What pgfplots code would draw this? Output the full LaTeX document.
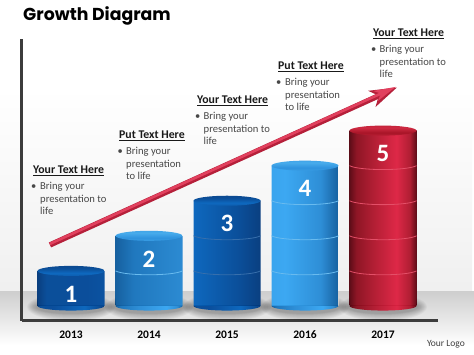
\documentclass[border=0pt]{standalone}
\usepackage{fontspec}
\setmainfont{Carlito}
\newfontfamily\titlefont{Poppins}
\usepackage{pgfplots}
\pgfplotsset{compat=1.18}
\usetikzlibrary{arrows.meta}
\definecolor{spine}{HTML}{3C3C3C}
\definecolor{HTMLa}{HTML}{0A3F80}
\definecolor{HTMLb}{HTML}{0B4F9A}
\definecolor{HTMLc}{HTML}{0B4E9B}
\definecolor{HTMLd}{HTML}{0E68BE}
\definecolor{LBa}{HTML}{16609F}
\definecolor{LBb}{HTML}{2078BE}
\definecolor{LBc}{HTML}{2E8ED6}
\definecolor{LBd}{HTML}{3CA8F2}
\definecolor{REa}{HTML}{5E0D18}
\definecolor{REb}{HTML}{8E1625}
\definecolor{REc}{HTML}{B01E33}
\definecolor{REd}{HTML}{DE2847}
\definecolor{LTa}{HTML}{2F93DE}
\definecolor{LTb}{HTML}{48ACEC}
\definecolor{RTa}{HTML}{A81528}
\definecolor{RTb}{HTML}{CF2A42}
\definecolor{ARa}{HTML}{B5203A}
\definecolor{ARb}{HTML}{E2405E}
\pgfdeclarehorizontalshading{cylDark}{100bp}{color(0bp)=(HTMLa);color(25bp)=(HTMLa);color(27bp)=(HTMLb);color(36bp)=(HTMLc);color(60bp)=(HTMLd);color(70bp)=(HTMLb);color(75bp)=(HTMLa);color(100bp)=(HTMLa)}
\pgfdeclarehorizontalshading{cylLight}{100bp}{color(0bp)=(LBa);color(25bp)=(LBa);color(29bp)=(LBb);color(42bp)=(LBc);color(63bp)=(LBd);color(71bp)=(LBc);color(75bp)=(LBa);color(100bp)=(LBa)}
\pgfdeclarehorizontalshading{cylRed}{100bp}{color(0bp)=(REa);color(25bp)=(REa);color(30bp)=(REb);color(42bp)=(REc);color(60bp)=(REd);color(70bp)=(REc);color(75bp)=(REa);color(100bp)=(REa)}
\pgfdeclareverticalshading{topDark}{100bp}{color(0bp)=(HTMLb);color(40bp)=(HTMLd);color(62bp)=(HTMLb);color(100bp)=(HTMLa)}
\pgfdeclareverticalshading{topLight}{100bp}{color(0bp)=(LTb);color(40bp)=(LTa);color(65bp)=(LTb);color(100bp)=(LTa)}
\pgfdeclareverticalshading{topRed}{100bp}{color(0bp)=(RTb);color(40bp)=(RTa);color(65bp)=(RTb);color(100bp)=(RTa)}
\newcommand\cylE[1]{\pgfpathellipse{\pgfpointorigin}{\pgfqpoint{33.5pt}{0pt}}{\pgfqpoint{0pt}{#1}}}
\newcommand\cylB{%
  \pgfpathmoveto{\pgfqpoint{-33.5pt}{0pt}}%
  \pgfpathcurveto{\pgfqpoint{-33.5pt}{-2.5pt}}{\pgfqpoint{-18.5pt}{-4.6pt}}{\pgfqpoint{0pt}{-4.6pt}}%
  \pgfpathcurveto{\pgfqpoint{18.5pt}{-4.6pt}}{\pgfqpoint{33.5pt}{-2.5pt}}{\pgfqpoint{33.5pt}{0pt}}%
  \pgfpathclose}
\pgfdeclareplotmark{capDark}{\cylE{5pt}\pgfshadepath{topDark}{0}\pgfusepath{discard}}
\pgfdeclareplotmark{capLight}{\cylE{5pt}\pgfshadepath{topLight}{0}\pgfusepath{discard}}
\pgfdeclareplotmark{capRed}{\cylE{5pt}\pgfshadepath{topRed}{0}\pgfusepath{discard}}
\pgfdeclareplotmark{baseDark}{\cylB\pgfshadepath{cylDark}{0}\pgfusepath{discard}}
\pgfdeclareplotmark{baseLight}{\cylB\pgfshadepath{cylLight}{0}\pgfusepath{discard}}
\pgfdeclareplotmark{baseRed}{\cylB\pgfshadepath{cylRed}{0}\pgfusepath{discard}}
\pgfdeclareplotmark{seam}{%
  \pgfpathmoveto{\pgfqpoint{-33.5pt}{0pt}}%
  \pgfpathcurveto{\pgfqpoint{-24pt}{-5.2pt}}{\pgfqpoint{24pt}{-5.2pt}}{\pgfqpoint{33.5pt}{0pt}}%
  \pgfusepathqstroke}
\newcommand\shadowE[2]{\pgfpathellipse{\pgfqpoint{0pt}{-1pt}}{\pgfqpoint{#1pt}{0pt}}{\pgfqpoint{0pt}{#2pt}}\pgfusepathqfill}
% the shadow is clipped to everything but the cylinder body, since marks lie above the bars
\pgfdeclareplotmark{shadow}{%
  \pgfscope
  \pgfseteorule
  \pgfpathrectanglecorners{\pgfqpoint{-60pt}{-30pt}}{\pgfqpoint{60pt}{30pt}}%
  \pgfpathrectanglecorners{\pgfqpoint{-33.5pt}{0pt}}{\pgfqpoint{33.5pt}{30pt}}%
  \pgfusepath{clip}%
  \pgfsetfillopacity{0.035}%
  \shadowE{44}{14}\shadowE{43}{13}\shadowE{42}{12}\shadowE{41}{11}\shadowE{40}{10}\shadowE{39}{9}\shadowE{38}{8}\shadowE{36.5}{7.5}\shadowE{35}{7}%
  \endpgfscope}
\newcommand\blurb[7]{% x, head centre y, head, bullet x, text x, line2, line3
  \node[anchor=mid west,inner sep=0pt,text=black!90] at (#1pt,353.5pt-#2pt) {\bfseries\fontsize{11.8}{12}\selectfont\underline{#3}};
  \node[anchor=mid west,inner sep=0pt,text=black!72] at (#4pt,353.5pt-#2pt-16pt) {\fontsize{10.5}{12}\selectfont\textbullet};
  \node[anchor=mid west,inner sep=0pt,text=black!72] at (#5pt,353.5pt-#2pt-16pt) {\fontsize{10.6}{12}\selectfont Bring your};
  \node[anchor=mid west,inner sep=0pt,text=black!72] at (#5pt,353.5pt-#2pt-28.5pt) {\fontsize{10.6}{12}\selectfont #6};
  \node[anchor=mid west,inner sep=0pt,text=black!72] at (#5pt,353.5pt-#2pt-41pt) {\fontsize{10.6}{12}\selectfont #7};
}
\begin{document}
\begin{tikzpicture}[x=1pt,y=1pt]
\useasboundingbox (0,0) rectangle (474,355);
\fill[white] (0,0) rectangle (474,355);
\shade[top color=white,bottom color=black!6] (0,63) rectangle (472,267);
\shade[top color=black!19,bottom color=white] (0,10) rectangle (474,63);
\begin{axis}[
  at={(21.5pt,34.3pt)},anchor=south west,
  width=416.5pt,height=282pt,scale only axis,
  xmin=-0.635,xmax=4.705,ymin=-0.42,ymax=7.62,
  axis x line=bottom,axis y line=left,
  axis line style={line width=3.4pt,color=spine,-},
  xtick={0,1,2,3,4},xticklabels={2013,2014,2015,2016,2017},
  ytick=\empty,major tick length=0pt,
  xticklabel style={font=\bfseries\fontsize{11.5}{12}\selectfont,text=black,yshift=-6.5pt},
  clip=false,clip mode=global,
]
% floor shadows
\addplot[only marks,mark=shadow,fill=black] coordinates {(0,0)(1,0)(2,0)(3,0)(4,0)};
% cylinder bases
\addplot[only marks,mark=baseDark] coordinates {(0,0)(2,0)};
\addplot[only marks,mark=baseLight] coordinates {(1,0)(3,0)};
\addplot[only marks,mark=baseRed] coordinates {(4,0)};
% cylinder bodies
\addplot[ybar,bar width=67pt,bar shift=0pt,draw=none,shading=cylDark] coordinates {(0,1)(2,3)};
\addplot[ybar,bar width=67pt,bar shift=0pt,draw=none,shading=cylLight] coordinates {(1,2)(3,4)};
\addplot[ybar,bar width=67pt,bar shift=0pt,draw=none,shading=cylRed] coordinates {(4,5)};
% seams
\addplot[only marks,mark=seam,mark options={draw=HTMLb!82!white,line width=0.8pt}] coordinates {(2,1)(2,2)};
\addplot[only marks,mark=seam,mark options={draw=LTb!82!white,line width=0.8pt}] coordinates {(1,1)(3,1)(3,2)(3,3)};
\addplot[only marks,mark=seam,mark options={draw=REd!82!white,line width=0.8pt}] coordinates {(4,1)(4,2)(4,3)(4,4)};
% tops
\addplot[only marks,mark=capDark] coordinates {(0,1)(2,3)};
\addplot[only marks,mark=capLight] coordinates {(1,2)(3,4)};
\addplot[only marks,mark=capRed] coordinates {(4,5)};
% numbers
\addplot[draw=none,point meta=explicit symbolic,nodes near coords={\pgfplotspointmeta},
  nodes near coords style={font=\bfseries\fontsize{25}{26}\selectfont,text=white,anchor=center,yshift=-23pt}]
  coordinates {(0,1)[1] (1,2)[2] (2,3)[3] (3,4)[4] (4,5)[5]};
% growth arrow
\addplot[line width=5.4pt,color=ARa,-{Stealth[length=27pt,width=17pt,inset=7pt]}] coordinates {(-0.27,1.74)(4.18,6.23)};
\addplot[line width=2.6pt,color=ARb,-{Stealth[length=22pt,width=11pt,inset=6pt]},shift={(-0.3pt,0.9pt)}] coordinates {(-0.27,1.74)(4.165,6.22)};
\end{axis}
\node[anchor=mid west,inner sep=0pt] at (23,336.5) {\titlefont\bfseries\fontsize{17.3}{18}\selectfont Growth Diagram};
\blurb{33}{170}{Your Text Here}{31}{40}{presentation to}{life}
\blurb{119}{135}{Put Text Here}{117.5}{126}{presentation}{to life}
\blurb{197}{100}{Your Text Here}{195}{203.5}{presentation to}{life}
\blurb{278}{66}{Put Text Here}{276}{285}{presentation}{to life}
\blurb{373}{33}{Your Text Here}{371}{379.5}{presentation to}{life}
\node[anchor=mid east,inner sep=0pt,text=black!75] at (465,11) {\fontsize{9.5}{12}\selectfont Your Logo};
\end{tikzpicture}
\end{document}
